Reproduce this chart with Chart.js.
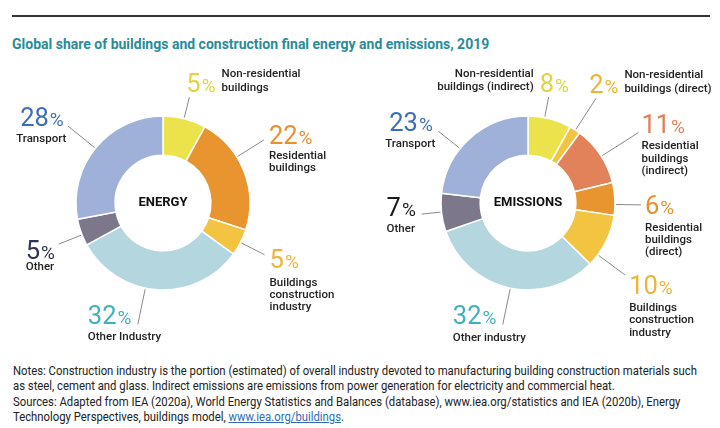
<!DOCTYPE html>
<html>
<head>
<meta charset="utf-8">
<script src="https://cdn.jsdelivr.net/npm/chart.js"></script>
<style>
  body { margin: 0; background: #fff; width: 720px; height: 428px; overflow: hidden; position: relative; font-family: Roboto, sans-serif; }
  .rule { position: absolute; left: 12px; top: 15px; width: 698px; height: 2px; background: #333; }
  .title { position: absolute; left: 12px; top: 36px; font: bold 14px Roboto, sans-serif; color: #2a8c98; white-space: nowrap; }
  canvas { position: absolute; top: 55px; }
  #energy { left: 0; }
  #emissions { left: 360px; }
  .notes { position: absolute; left: 13px; top: 364px; font: 13px Roboto, sans-serif; color: #222; line-height: 14.5px; white-space: nowrap; transform-origin: 0 0; }
  .notes .src { margin-top: 2px; }
  .notes a { color: #2f6db5; text-decoration: underline; }
</style>
</head>
<body>
<div class="rule"></div>
<div class="title">Global share of buildings and construction final energy and emissions, 2019</div>
<canvas id="energy" width="360" height="300"></canvas>
<canvas id="emissions" width="360" height="300"></canvas>
<div class="notes" id="notes">
  <div id="firstNote" style="display:inline-block">Notes: Construction industry is the portion (estimated) of overall industry devoted to manufacturing building construction materials such</div>
  <div>as steel, cement and glass. Indirect emissions are emissions from power generation for electricity and commercial heat.</div>
  <div class="src">Sources: Adapted from IEA (2020a), World Energy Statistics and Balances (database), www.iea.org/statistics and IEA (2020b), Energy</div>
  <div>Technology Perspectives, buildings model, <a href="#">www.iea.org/buildings</a>.</div>
</div>
<script>
"use strict";

// energy donut
const energyLabels = [
  ["Non-residential", "buildings"],
  ["Residential", "buildings"],
  ["Buildings", "construction", "industry"],
  ["Other Industry"],
  ["Other"],
  ["Transport"]
];
// slice sizes as drawn (the first slice is printed as 5% but drawn at about 8%)
const energyValues = [8, 22, 5, 32, 5, 28];
const energyShown = [5, 22, 5, 32, 5, 28];

// emissions donut
const emissionsLabels = [
  ["Non-residential", "buildings (indirect)"],
  ["Non-residential", "buildings (direct)"],
  ["Residential", "buildings", "(indirect)"],
  ["Residential", "buildings", "(direct)"],
  ["Buildings", "construction", "industry"],
  ["Other industry"],
  ["Other"],
  ["Transport"]
];
const emissionsValues = [8, 2, 11, 6, 10, 32, 7, 23];
const emissionsShown = [8, 2, 11, 6, 10, 32, 7, 23];

// colours
const energyFill = ["#ece24c", "#e8952f", "#f2c441", "#b4d6df", "#7c778a", "#a0b1d9"];
const energyText = ["#e2d43c", "#e8902e", "#edb437", "#40afbf", "#2d3352", "#3b6db8"];
const emissionsFill = ["#ece24c", "#f2c441", "#e2825a", "#e8952f", "#f2c441", "#b4d6df", "#7c778a", "#a0b1d9"];
const emissionsText = ["#e2d43c", "#edb437", "#e07f55", "#e8902e", "#edb437", "#40afbf", "#1a1a1a", "#3b6db8"];

// label placement: angle tweak (deg), leader length, percent offset from leader end, text mode
const energyLayout = [
  { da: -0.4, len: 22, tx: -3, ty: -14, mode: "right" },
  { da: -10.4, len: 32, tx: 5, ty: -5, mode: "below", gap: 21 },
  { da: 0, len: 27, tx: 5, ty: 4, mode: "below", gap: 24 },
  { da: 8.1, len: 37, tx: -50, ty: -9, mode: "below", gap: 22 },
  { da: -1.7, len: 25, tx: -33, ty: 6, mode: "below", gap: 17 },
  { da: -0.6, len: 35, tx: -48, ty: -9, mode: "below", gap: 22, lx: -4 }
];
const emissionsLayout = [
  { da: -3.5, len: 21, tx: -9, ty: -14, mode: "left" },
  { da: 0.3, len: 38, tx: -7, ty: -14, mode: "right" },
  { da: 1.1, len: 44, tx: 3, ty: -9, mode: "below", gap: 23 },
  { da: 3.7, len: 26, tx: 4, ty: 0, mode: "below", gap: 23 },
  { da: 10.2, len: 34, tx: 4, ty: 10, mode: "below", gap: 23 },
  { da: -1, len: 37, tx: -50, ty: -9, mode: "below", gap: 23 },
  { da: 0.4, len: 20, tx: -35, ty: -7, mode: "below", gap: 22 },
  { da: -9.5, len: 28, tx: -49, ty: -9, mode: "below", gap: 22, lx: -4 }
];

function drawPct(ctx, x, mid, value, color) {
  ctx.fillStyle = color;
  ctx.textAlign = "left";
  ctx.textBaseline = "alphabetic";
  const base = mid + 9;
  ctx.font = "400 25.5px Roboto";
  ctx.fillText(String(value), x, base);
  const w = ctx.measureText(String(value)).width;
  ctx.font = "400 19px Roboto";
  ctx.fillText("%", x + w + 1, base);
  return w + 1 + ctx.measureText("%").width;
}

// draws leader lines, percentages, names and the centre word
const calloutPlugin = {
  id: "callouts",
  afterDatasetsDraw(chart, args, opts) {
    const ctx = chart.ctx;
    const meta = chart.getDatasetMeta(0);
    ctx.save();
    meta.data.forEach(function (arc, i) {
      const p = arc.getProps(["x", "y", "startAngle", "endAngle", "outerRadius"], true);
      const lay = opts.layout[i];
      const ang = (p.startAngle + p.endAngle) / 2 + lay.da * Math.PI / 180;
      const cx = Math.cos(ang), cy = Math.sin(ang);
      const x0 = p.x + cx * (p.outerRadius + 1), y0 = p.y + cy * (p.outerRadius + 1);
      const x1 = p.x + cx * (p.outerRadius + lay.len), y1 = p.y + cy * (p.outerRadius + lay.len);
      ctx.strokeStyle = "#8a8a8a";
      ctx.lineWidth = 1;
      ctx.beginPath();
      ctx.moveTo(x0, y0);
      ctx.lineTo(x1, y1);
      ctx.stroke();

      const px = x1 + lay.tx, pm = y1 + lay.ty;
      const w = drawPct(ctx, px, pm, opts.shown[i], opts.colors[i]);
      const lines = opts.names[i];
      ctx.fillStyle = "#222";
      ctx.font = "500 11.5px Roboto";
      ctx.textBaseline = "middle";
      if (lay.mode === "right" || lay.mode === "left") {
        ctx.textAlign = lay.mode === "right" ? "left" : "right";
        const lxp = lay.mode === "right" ? px + w + 6 : px - 6;
        lines.forEach(function (t, k) {
          ctx.fillText(t, lxp, pm - 9 + k * 13.5);
        });
      } else {
        ctx.textAlign = "left";
        lines.forEach(function (t, k) {
          ctx.fillText(t, px + (lay.lx || 0), pm + lay.gap + k * 12.3);
        });
      }
    });
    const c = meta.data[0];
    ctx.fillStyle = "#111";
    ctx.font = "bold 13px Roboto";
    ctx.textAlign = "center";
    ctx.textBaseline = "middle";
    ctx.fillText(opts.center, c.x, c.y);
    ctx.restore();
  }
};

function makeDonut(id, labels, values, fills, shown, textColors, layout, centerWord, pad) {
  return new Chart(document.getElementById(id), {
    type: "doughnut",
    data: {
      labels: labels.map(function (l) { return l.join(" "); }),
      datasets: [{
        data: values,
        backgroundColor: fills,
        borderColor: "#ffffff",
        borderWidth: 1.5
      }]
    },
    options: {
      responsive: false,
      animation: false,
      devicePixelRatio: 1,
      radius: 87,
      cutout: "55%",
      layout: { padding: pad },
      plugins: {
        legend: { display: false },
        tooltip: { enabled: false },
        callouts: { names: labels, shown: shown, colors: textColors, layout: layout, center: centerWord }
      }
    },
    plugins: [calloutPlugin]
  });
}

makeDonut("energy", energyLabels, energyValues, energyFill, energyShown, energyText, energyLayout, "ENERGY",
  { left: 0, right: 34, top: 0, bottom: 4 });
makeDonut("emissions", emissionsLabels, emissionsValues, emissionsFill, emissionsShown, emissionsText, emissionsLayout, "EMISSIONS",
  { left: 0, right: 24, top: 0, bottom: 4 });

// squeeze the notes so the first line ends where the reference line ends
const notes = document.getElementById("notes");
const firstWidth = document.getElementById("firstNote").getBoundingClientRect().width;
notes.style.transform = "scaleX(" + (684 / firstWidth) + ")";
</script>
</body>
</html>
